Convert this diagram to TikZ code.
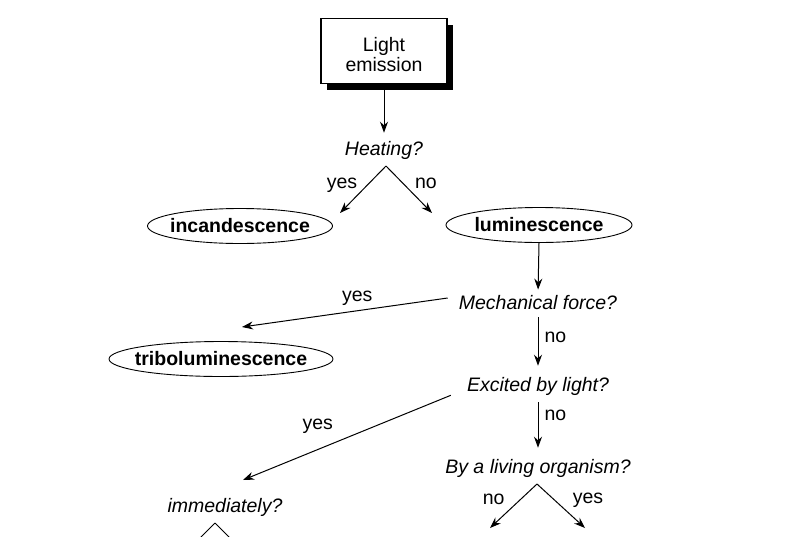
\documentclass[tikz,border=0pt]{standalone}
\usepackage{fontspec}
\setmainfont{Liberation Sans}
\usetikzlibrary{
    shapes.geometric,
    arrows.meta,
    positioning,
    shadows
}
\tikzset{
    ebox/.style={
        rectangle, draw=black, line width=1.1pt, fill=white,
        minimum width=126pt, minimum height=65pt, align=center,
        font=\fontsize{19.5}{21}\selectfont, inner sep=2pt,
        drop shadow={shadow xshift=6pt, shadow yshift=-6pt, fill=black, opacity=1}
    },
    eterm/.style={
        ellipse, draw=black, line width=0.9pt, minimum height=35pt,
        inner xsep=-20pt, inner ysep=0pt,
        font=\fontsize{19.5}{21}\selectfont\bfseries
    },
    equest/.style={font=\fontsize{19.5}{21}\selectfont\itshape, inner sep=2pt},
    elabel/.style={font=\fontsize{19.5}{21}\selectfont, inner sep=1pt},
    earr/.style={-{Stealth[length=11pt, width=8pt]}, line width=1pt},
}

\begin{document}
\begin{tikzpicture}[x=1pt, y=-1pt]
    \useasboundingbox (0,0) rectangle (792,536);
    \clip (0,0) rectangle (792,536);

    % ── start box ────────────────────────────────────
    \node [ebox] (emis) at (384,51)
        {\raisebox{-11pt}[0pt][0pt]{\begin{tabular}{@{}c@{}}Light\\[-1pt]emission\end{tabular}}};

    % ── heating ──────────────────────────────────────
    \node [equest] (heat) at (384,150) {Heating?};
    \coordinate (heatfork) at (386,166);
    \coordinate (incarr) at (340,213);
    \coordinate (lumarr) at (432,213);

    \node [eterm, minimum width=185pt] (incand) at (240,226) {incandescence};
    \node [eterm, minimum width=186pt] (lumi) at (539,225) {luminescence};

    % ── mechanical force ─────────────────────────────
    \node [equest] (mech) at (538,303) {Mechanical force?};
    \coordinate (triarr) at (242,327);
    \node [eterm, minimum width=224pt] (tribo) at (221,359) {triboluminescence};

    % ── light / organism ─────────────────────────────
    \node [equest] (excit) at (538,386) {Excited by light?};
    \coordinate (immarr) at (243,480);
    \node [equest] (living) at (538,468) {By a living organism?};
    \coordinate (livfork) at (537,484);
    \coordinate (noarr) at (490,528);
    \coordinate (yesarr) at (585,528);

    \node [equest] (immed) at (225,507) {immediately?};
    \coordinate (immfork) at (215,523);
    \coordinate (immleft) at (175,563);
    \coordinate (immright) at (255,563);

    % ── arrows ───────────────────────────────────────
    \draw [earr, shorten >=6pt] (emis.south) -- (heat.north);
    \draw [earr] (heatfork) -- node[elabel, left=9pt, pos=0.4]{yes} (incarr);
    \draw [earr] (heatfork) -- node[elabel, right=11pt, pos=0.36]{no} (lumarr);

    \draw [earr, shorten >=4pt] (lumi.south) -- (mech.north);
    \draw [earr] ([xshift=-9pt, yshift=5pt]mech.west)
        -- node[elabel, above=4pt, pos=0.44]{yes} (triarr);
    \draw [earr, shorten <=5pt, shorten >=9pt] (mech.south)
        -- node[elabel, right=5pt, pos=0.4]{no} (excit.north);

    \draw [earr] ([xshift=-14pt, yshift=2pt]excit.south west)
        -- node[elabel, above=14pt, pos=0.64]{yes} (immarr);
    \draw [earr, shorten <=5pt, shorten >=9pt] (excit.south)
        -- node[elabel, right=5pt, pos=0.3]{no} (living.north);

    \draw [earr] (livfork) -- node[elabel, left=15pt, pos=0.34]{no} (noarr);
    \draw [earr] (livfork) -- node[elabel, right=17pt, pos=0.36]{yes} (yesarr);

    \draw [earr] (immfork) -- (immleft);
    \draw [earr] (immfork) -- (immright);

\end{tikzpicture}
\end{document}
